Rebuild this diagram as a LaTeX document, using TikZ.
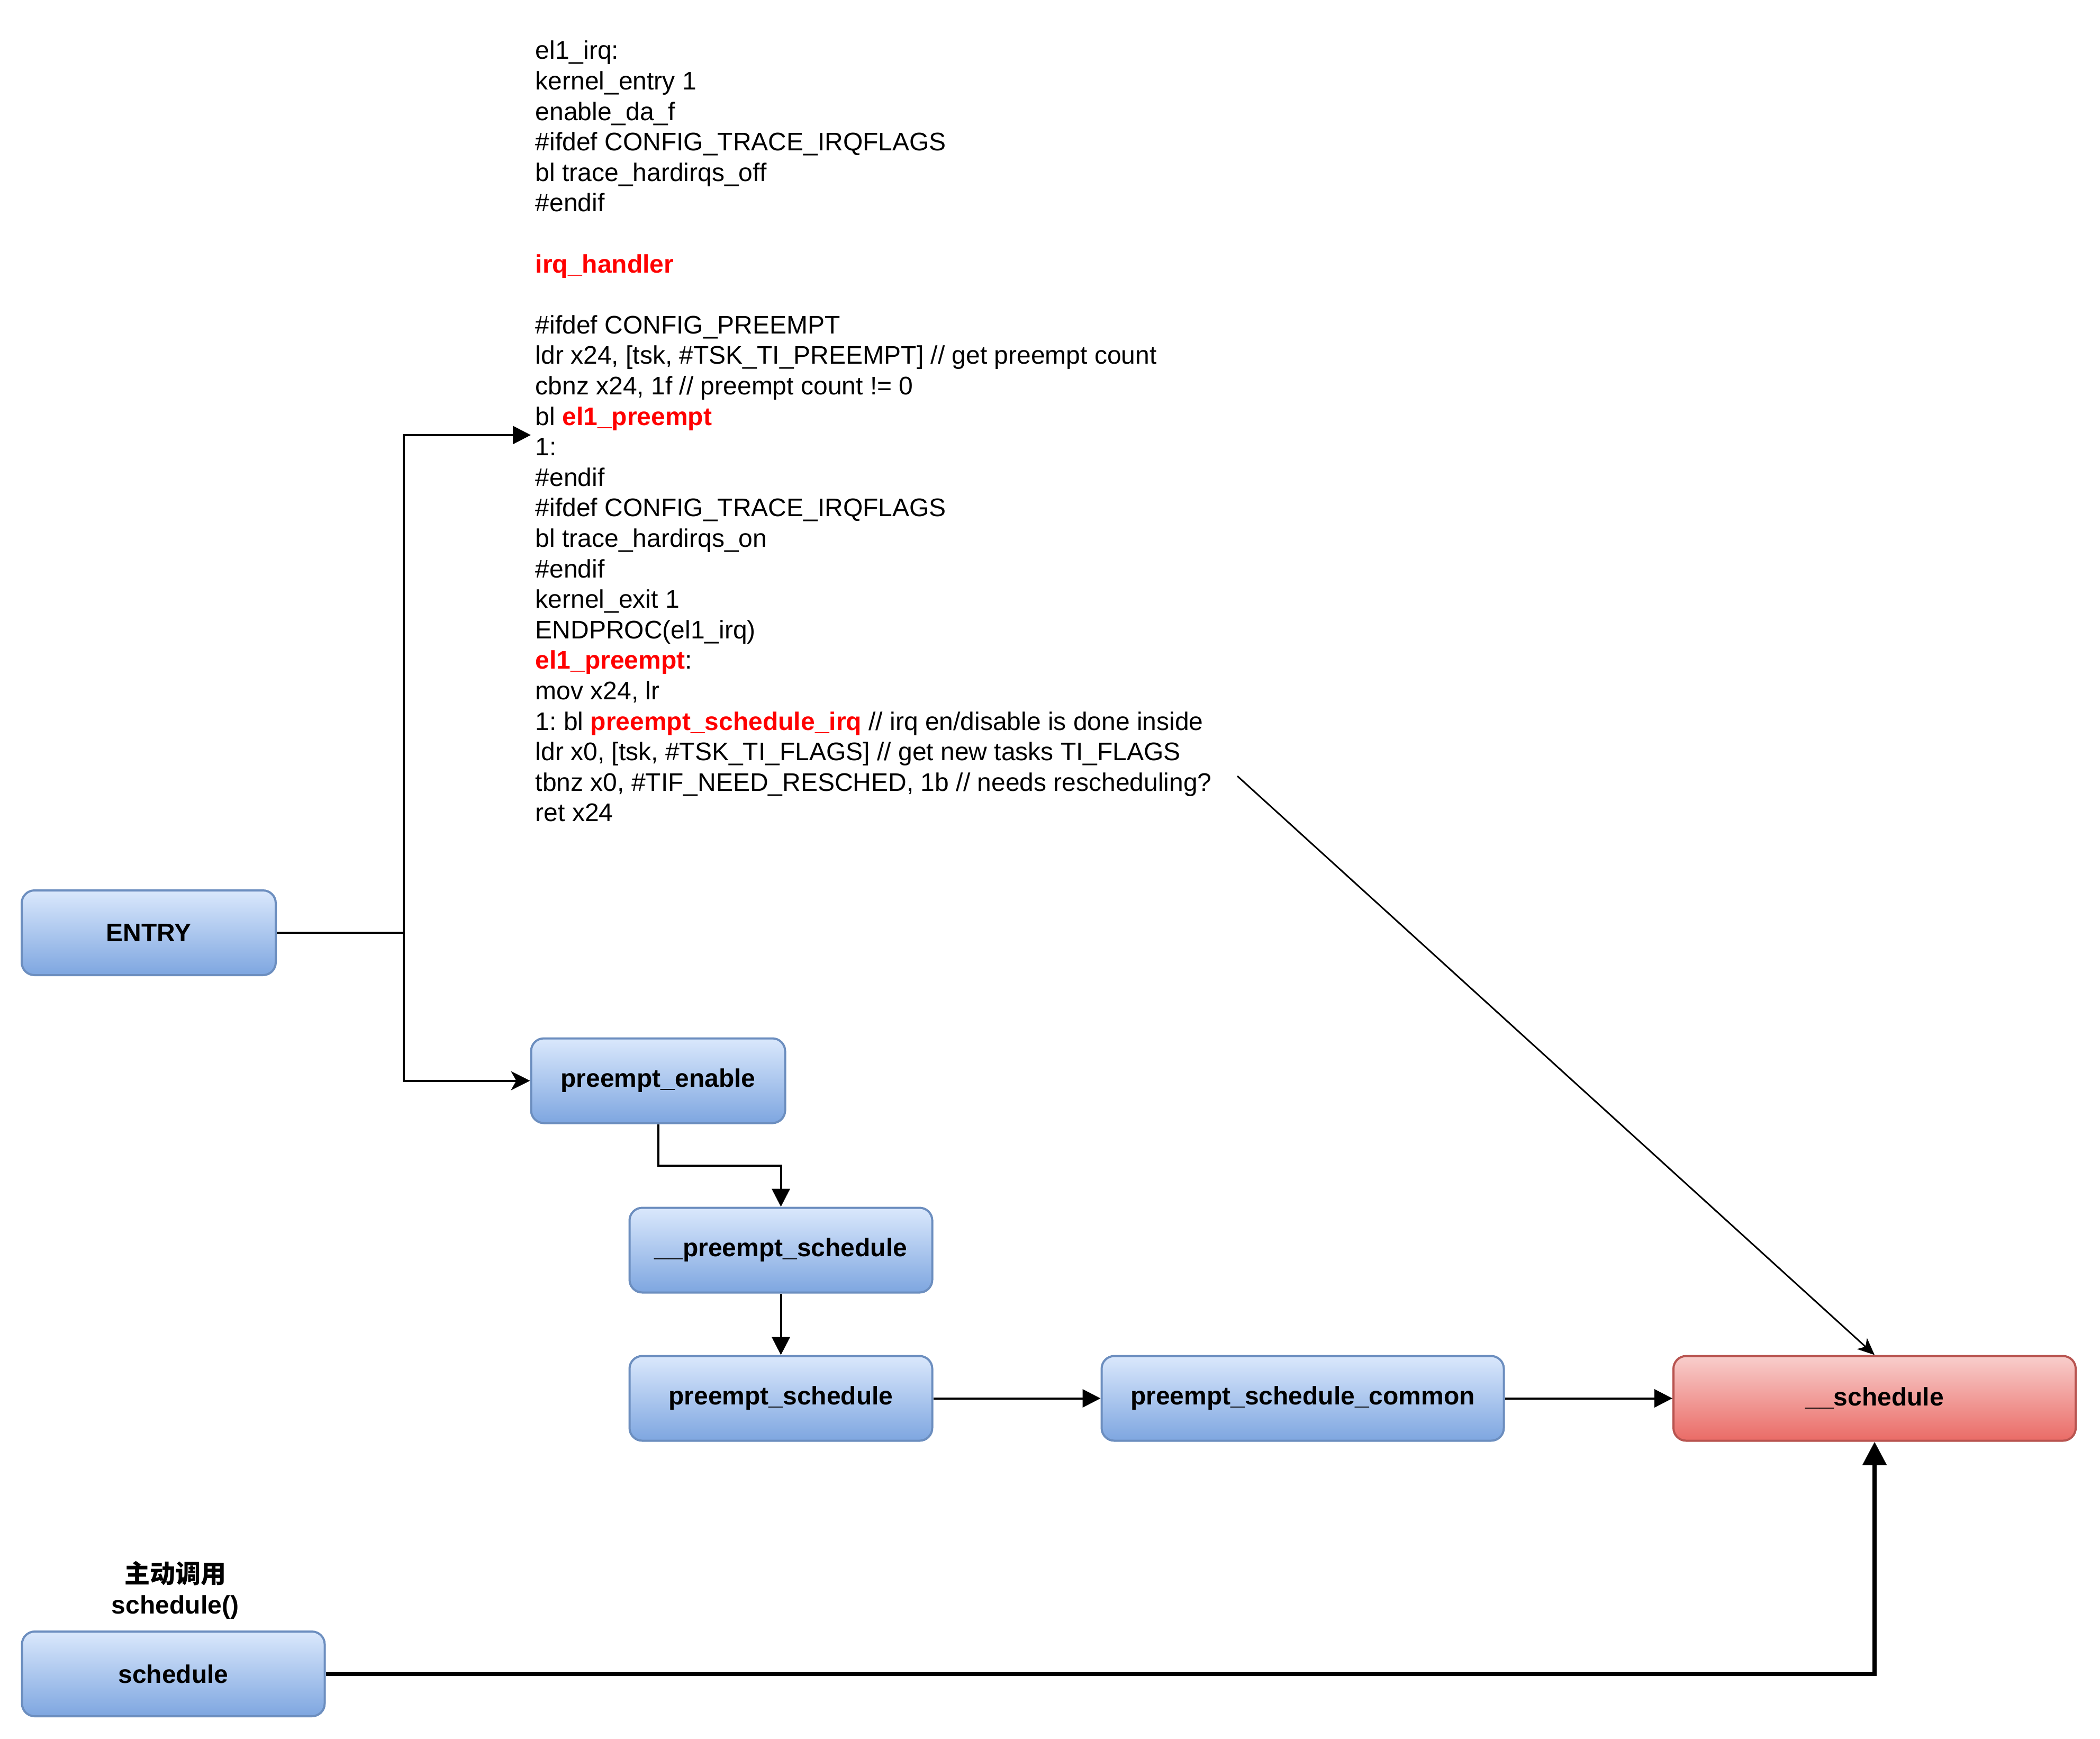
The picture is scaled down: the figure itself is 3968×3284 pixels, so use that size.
\documentclass[tikz,border=0pt]{standalone}
\usepackage{fontspec}
\setmainfont{Liberation Sans}
\newfontfamily\cjkfont{Noto Sans CJK SC}
\usetikzlibrary{arrows.meta,calc}
\definecolor{bluetop}{HTML}{DAE8FC}
\definecolor{bluebot}{HTML}{7EA6E0}
\definecolor{bluestroke}{HTML}{6C8EBF}
\definecolor{redtop}{HTML}{F8CECC}
\definecolor{redbot}{HTML}{EA6B66}
\definecolor{redstroke}{HTML}{B85450}
\definecolor{codered}{HTML}{FF0000}
\newcommand{\hl}[1]{\textcolor{codered}{\bfseries #1}}
\frenchspacing
\begin{document}
\begin{tikzpicture}[x=0.25pt,y=-0.25pt,
  fn/.style={rectangle, rounded corners=6pt, line width=1pt, minimum height=40pt,
    inner sep=0pt, font=\fontsize{12}{14.4}\selectfont\bfseries,
    top color=bluetop, bottom color=bluebot, draw=bluestroke},
  fnred/.style={fn, top color=redtop, bottom color=redbot, draw=redstroke},
  link/.style={line width=1pt, -{Triangle[length=8.5pt,width=8.5pt]}},
  classiclink/.style={line width=1pt, -{Stealth[length=9pt,width=9pt,inset=2.5pt]}},
  thinclassic/.style={line width=0.75pt, -{Stealth[length=8pt,width=7pt,inset=2.2pt]}},
  thicklink/.style={line width=2pt, -{Triangle[length=11pt,width=11pt]}},
  codetext/.style={anchor=north west, inner xsep=2pt, inner ysep=0pt, align=left,
    font=\fontsize{12}{14.4}\selectfont\frenchspacing},
  plainlabel/.style={align=center, inner sep=0pt, font=\fontsize{12}{14.5}\selectfont\bfseries}
]
\useasboundingbox (0,0) rectangle (3968,3284);

% code block
\node[codetext] (code) at (1003,75) {\rule{0pt}{9pt}el1\_irq:\\
kernel\_entry 1\\
enable\_da\_f\\
\#ifdef CONFIG\_TRACE\_IRQFLAGS\\
bl trace\_hardirqs\_off\\
\#endif\\
\mbox{}\\
\hl{irq\_handler}\\
\mbox{}\\
\#ifdef CONFIG\_PREEMPT\\
ldr x24, [tsk, \#TSK\_TI\_PREEMPT] // get preempt count\\
cbnz x24, 1f // preempt count != 0\\
bl \hl{el1\_preempt}\\
1:\\
\#endif\\
\#ifdef CONFIG\_TRACE\_IRQFLAGS\\
bl trace\_hardirqs\_on\\
\#endif\\
kernel\_exit 1\\
ENDPROC(el1\_irq)\\
\hl{el1\_preempt}:\\
mov x24, lr\\
1: bl \hl{preempt\_schedule\_irq} // irq en/disable is done inside\\
ldr x0, [tsk, \#TSK\_TI\_FLAGS] // get new tasks TI\_FLAGS\\
tbnz x0, \#TIF\_NEED\_RESCHED, 1b // needs rescheduling?\\
ret x24\rule[-4pt]{0pt}{4pt}};

% boxes
\node[fn, minimum width=120pt] (entry) at (281,1762) {ENTRY};
\node[fn, minimum width=120pt] (pe) at (1243.5,2041.5) {preempt\_enable};
\node[fn, minimum width=143pt] (pps) at (1475.5,2361.5) {\_\_preempt\_schedule};
\node[fn, minimum width=143pt] (ps) at (1475.5,2641.5) {preempt\_schedule};
\node[fn, minimum width=190pt] (psc) at (2461.5,2641.5) {preempt\_schedule\_common};
\node[fnred, minimum width=190pt] (sch) at (3542,2641.5) {\_\_schedule};
\node[fn, minimum width=143pt] (schedule) at (327.5,3162) {schedule};
\node[plainlabel] (lbl) at (331,3004) {{\cjkfont 主动调用}\\schedule()};

% connectors
\coordinate (bus) at (763,1762);
\draw[line width=1pt] (entry.east) -- (bus);
\draw[link] (bus) |- (code.west);
\draw[classiclink] (bus) |- (pe.west);
\draw[link] (pe.south) -- (pe.south |- 0,2202) -| (pps.north);
\draw[link] (pps.south) -- (ps.north);
\draw[link] (ps.east) -- (psc.west);
\draw[link] (psc.east) -- (sch.west);
\coordinate (dstart) at (2338,1466);
\draw[thinclassic] (dstart) -- (sch.north);
\draw[thicklink] (schedule.east) -| (sch.south);
\end{tikzpicture}
\end{document}
